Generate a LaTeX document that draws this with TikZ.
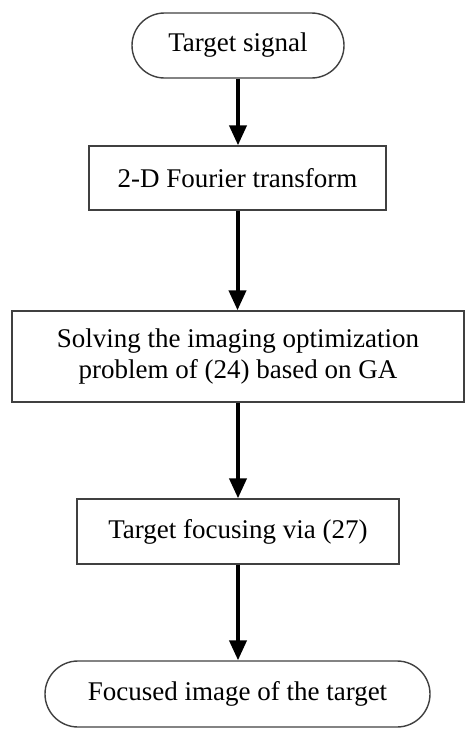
\documentclass[tikz,border=0pt]{standalone}
\usepackage{fontspec}
\setmainfont{Liberation Serif}
\usetikzlibrary{shapes.misc,arrows.meta}
\begin{document}
\begin{tikzpicture}[x=1pt,y=-1pt,
  box/.style={draw=black!75,line width=1.4pt,rectangle,minimum height=#1,inner sep=0pt,align=center,font=\fontsize{27}{31}\selectfont},
  term/.style={draw=black!75,line width=1.4pt,rounded rectangle,rounded rectangle arc length=180,inner sep=0pt,font=\fontsize{27}{31}\selectfont},
  flow/.style={line width=4pt,-{Triangle[width=17pt,length=20pt]}}]
\useasboundingbox (0,0) rectangle (474,737);
\node[term,minimum width=212pt,minimum height=65pt] (start) at (238,45.5) {Target signal};
\node[box=64pt,minimum width=297pt] (fft) at (237.5,178) {2-D Fourier transform};
\node[box=91pt,minimum width=452pt] (solve) at (238,356.5) {Solving the imaging optimization\\problem of (24) based on GA};
\node[box=65pt,minimum width=322pt] (focus) at (238,531.5) {Target focusing via (27)};
\node[term,minimum width=385pt,minimum height=66pt] (end) at (237.5,694) {Focused image of the target};
\draw[flow] (start.south) -- (start.south |- fft.north);
\draw[flow] (fft.south) -- (fft.south |- solve.north);
\draw[flow] (solve.south) -- (solve.south |- focus.north);
\draw[flow] (focus.south) -- (focus.south |- end.north);
\end{tikzpicture}
\end{document}
